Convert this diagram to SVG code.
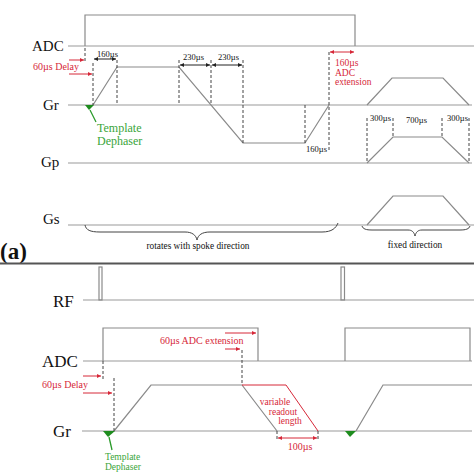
<svg xmlns="http://www.w3.org/2000/svg" width="474" height="474" viewBox="0 0 474 474">
<defs>
<marker id="ah" viewBox="0 0 10 10" refX="10" refY="5" markerWidth="5" markerHeight="4" orient="auto-start-reverse"><path d="M0,0 L10,5 L0,10 z" fill="#222"/></marker>
<marker id="ahr" viewBox="0 0 10 10" refX="10" refY="5" markerWidth="5" markerHeight="4" orient="auto-start-reverse"><path d="M0,0 L10,5 L0,10 z" fill="#d62839"/></marker>
</defs>
<style>
.base{stroke:#9a9a9a;stroke-width:1.2;fill:none}
.sig{stroke:#8a8a8a;stroke-width:1.2;fill:none}
.dash{stroke:#444;stroke-width:1;stroke-dasharray:3,2;fill:none}
.arr{stroke:#222;stroke-width:1;fill:none}
.arrr{stroke:#d62839;stroke-width:1;fill:none}
.t{font-family:"Liberation Serif","Times New Roman",serif;fill:#111}
.tr{font-family:"Liberation Serif","Times New Roman",serif;fill:#d62839}
.tg{font-family:"Liberation Serif","Times New Roman",serif;fill:#3aa53a}
.tri{fill:#1e8c1e}
.gl{stroke:#2a9a2a;stroke-width:1.3;fill:none}
</style>

<g id="panel-a">
  <g id="baselines-a">
    <path class="base" d="M68,46 H474 M68,105 H472 M68,163 H472 M68,225 H474"/>
  </g>
  <g id="labels-a" class="t" font-size="15">
    <text x="32" y="51">ADC</text>
    <text x="43" y="110">Gr</text>
    <text x="41" y="167">Gp</text>
    <text x="43" y="224">Gs</text>
  </g>
  <g id="signals-a">
    <path class="sig" d="M85,46 V15 H355 V46"/>
    <path class="sig" d="M93,105 L117,67 H179 L243,143 H305 L329,105"/>
    <path class="sig" d="M367,105 L392,78 H443 L469,105"/>
    <path class="sig" d="M367,163 L393,137 H442 L469,163"/>
    <path class="sig" d="M367,225 L393,196 H443 L469,225"/>
  </g>
  <g id="dashes-a">
    <path class="dash" d="M85,48 V62 M93,63 V105 M117,60 V105 M179,60 V105 M211,60 V105 M243,60 V143 M305,105 V143 M329,52 V150 M367,118 V163 M393,118 V137 M442,118 V137 M469,118 V163"/>
  </g>
  <g id="connectors-a">
    <path class="arrr" d="M69,60 H84" marker-end="url(#ahr)"/>
    <path class="arrr" d="M69,74 H92" marker-end="url(#ahr)"/>
    <path class="arr" d="M94,59 H116" marker-start="url(#ah)" marker-end="url(#ah)"/>
    <path class="arr" d="M180,65 H210" marker-start="url(#ah)" marker-end="url(#ah)"/>
    <path class="arr" d="M212,65 H242" marker-start="url(#ah)" marker-end="url(#ah)"/>
    <path class="arrr" d="M330,52 H354" marker-start="url(#ahr)" marker-end="url(#ahr)"/>
  </g>
  <g id="timing-labels-a" class="t" font-size="8.5">
    <text x="97" y="57">160µs</text>
    <text x="183" y="60">230µs</text>
    <text x="218" y="60">230µs</text>
    <text x="306" y="152">160µs</text>
    <text x="370" y="121">300µs</text>
    <text x="406" y="123">700µs</text>
    <text x="447" y="121">300µs</text>
  </g>
  <g id="red-labels-a" class="tr">
    <text x="33" y="70" font-size="10">60µs Delay</text>
    <text x="335" y="65.5" font-size="9.5">160µs</text>
    <text x="335" y="75.5" font-size="9.5">ADC</text>
    <text x="335" y="84.5" font-size="9.5">extension</text>
  </g>
  <g id="dephaser-a">
    <path class="tri" d="M85,105 L94,105 L89,110 z"/>
    <path class="gl" d="M90,110 L96,122"/>
    <text class="tg" x="97" y="132" font-size="12">Template</text>
    <text class="tg" x="97" y="145" font-size="12">Dephaser</text>
  </g>
  <g id="braces-a">
    <path fill="none" stroke="#444" stroke-width="1" d="M85,225 C86,230 90,232 100,232 H185 C192,232 196,235 197,240 C198,235 202,232 210,232 H322 C332,232 336,228 338,223"/>
    <path fill="none" stroke="#444" stroke-width="1" d="M362,226 C363,229 366,230 372,230 H408 C412,230 414,232 415,236 C416,232 418,230 422,230 H460 C466,230 469,229 470,226"/>
    <text class="t" x="198" y="249" font-size="9.3" text-anchor="middle">rotates with spoke direction</text>
    <text class="t" x="415" y="248" font-size="9.3" text-anchor="middle">fixed direction</text>
  </g>
  <text class="t" x="0" y="259" font-size="23" font-weight="bold">(a)</text>
</g>

<path id="separator" d="M0,263.5 H474" stroke="#555" stroke-width="2"/>

<g id="panel-b">
  <g id="baselines-b">
    <path class="base" d="M83,300 H474 M83,361 H472 M82,431 H472"/>
  </g>
  <g id="labels-b" class="t" font-size="17">
    <text x="53" y="307">RF</text>
    <text x="42" y="367">ADC</text>
    <text x="53" y="437">Gr</text>
  </g>
  <g id="signals-b">
    <rect class="sig" x="99" y="267" width="3" height="33" fill="#fff"/>
    <rect class="sig" x="341" y="267" width="3.5" height="33" fill="#fff"/>
    <path class="sig" d="M103,361 V328 H258 V361"/>
    <path class="sig" d="M345,361 V328 H470 V361"/>
    <path class="sig" d="M114,431 L151,385 H242 L277,431"/>
    <path class="sig" d="M356,431 L383,385 H472"/>
    <path class="arrr" d="M242,385 H286 L318,431"/>
  </g>
  <g id="dashes-b">
    <path class="dash" d="M103,361 V379 M114,378 V431 M242,350 V385 M277,431 V441 M318,431 V441"/>
  </g>
  <g id="connectors-b">
    <path class="arrr" d="M83,376 H101" marker-end="url(#ahr)"/>
    <path class="arrr" d="M83,393 H112" marker-end="url(#ahr)"/>
    <path class="arrr" d="M225,333 H256" marker-end="url(#ahr)"/>
    <path class="arrr" d="M225,349 H240" marker-end="url(#ahr)"/>
    <path class="arrr" d="M278,438 H317" marker-start="url(#ahr)" marker-end="url(#ahr)"/>
  </g>
  <g id="red-labels-b" class="tr" font-size="10">
    <text x="42" y="388">60µs Delay</text>
    <text x="160" y="344">60µs ADC extension</text>
    <text x="275" y="405" font-size="9.5" text-anchor="middle">variable</text>
    <text x="283" y="414.5" font-size="9.5" text-anchor="middle">readout</text>
    <text x="290" y="424" font-size="9.5" text-anchor="middle">length</text>
    <text x="300" y="450" text-anchor="middle">100µs</text>
  </g>
  <g id="dephaser-b">
    <path class="tri" d="M103,431 L115,431 L108,437 z"/>
    <path class="gl" d="M109,437 L112,450"/>
    <text class="tg" x="105" y="459.5" font-size="9.5">Template</text>
    <text class="tg" x="105" y="469.5" font-size="9.5">Dephaser</text>
    <path class="tri" d="M345,431 L356,431 L350,437 z"/>
  </g>
</g>
</svg>
